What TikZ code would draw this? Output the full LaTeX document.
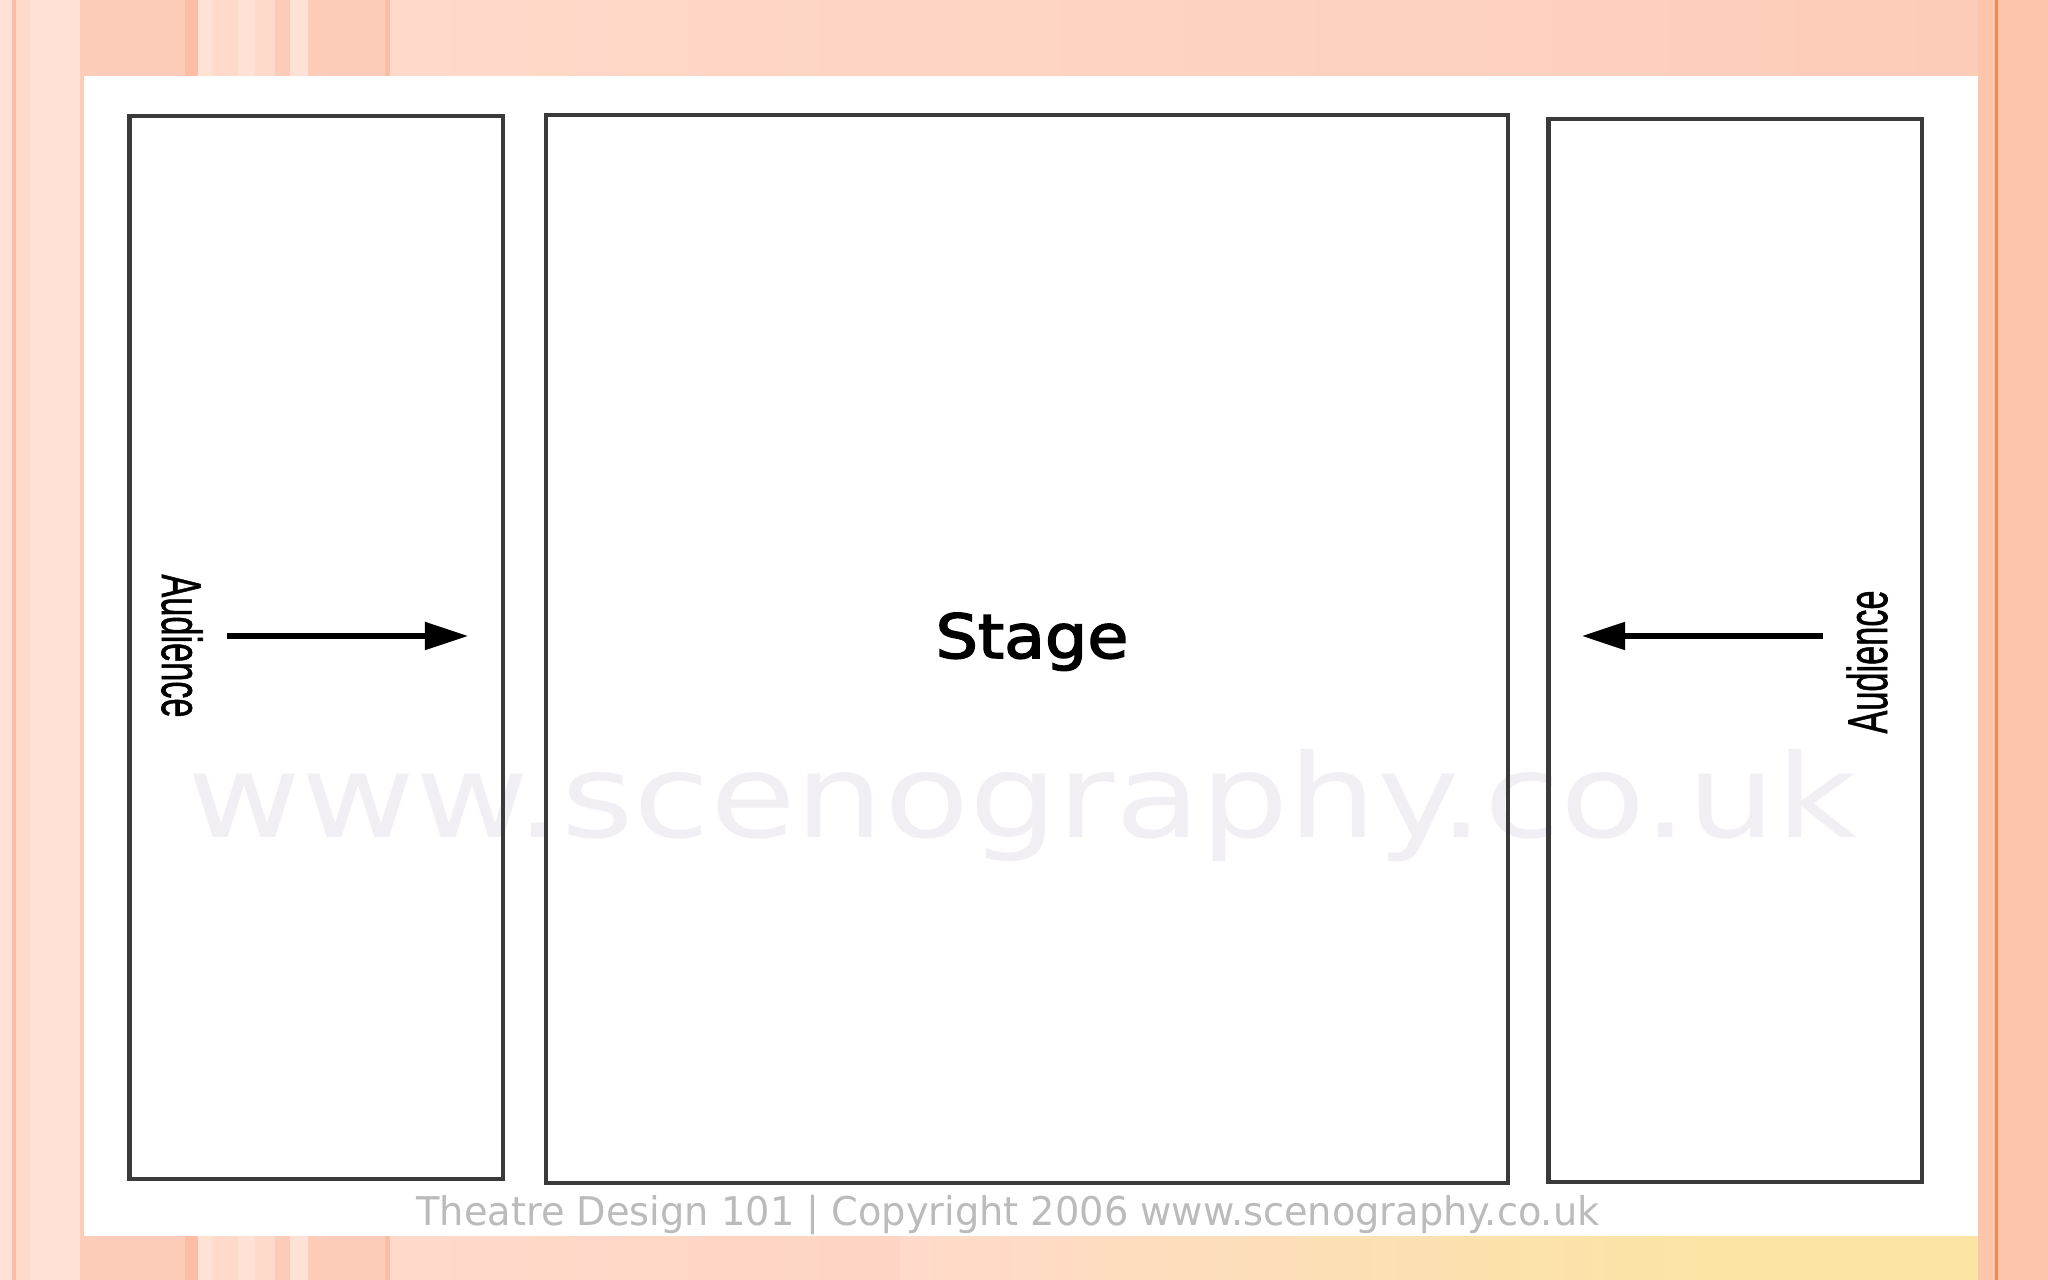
\documentclass[tikz,border=0pt]{standalone}
\usepackage{fontspec}
\usepackage{graphicx}
\usetikzlibrary{arrows.meta}
\newfontfamily\verdfont{DejaVu Sans}
\newfontfamily\verdheavy[FakeBold=2.5]{DejaVu Sans}
\newfontfamily\arialfont[FakeBold=1.2]{Liberation Sans}
\definecolor{peach}{HTML}{FDCCB8}
\definecolor{peachlt}{HTML}{FFD9CA}
\definecolor{peachpale}{HTML}{FFE1D5}
\definecolor{peachdk}{HTML}{FBBDA5}
\definecolor{peachrt}{HTML}{FDC6AC}
\definecolor{sand}{HTML}{FBE4A4}
\definecolor{rim}{HTML}{F08A50}
\definecolor{mark}{HTML}{F1EFF3}
\definecolor{foot}{HTML}{BBBBBB}
\definecolor{edge}{HTML}{3A3A3A}
\tikzset{
  area/.style={draw=edge, line width=1.2pt, inner sep=0pt, outer sep=0pt},
  seat/.style={area, minimum width=3.73cm, minimum height=10.63cm},
  ray/.style={line width=1.45pt, -{Triangle[length=0.43cm, width=0.27cm]}}
}
\begin{document}
\begin{tikzpicture}[x=0.01cm,y=-0.01cm]
\tikzstyle{every node}+=[inner sep=0pt]
\useasboundingbox (0,0) rectangle (2048,1280);
\fill[peach] (0,0) rectangle (2048,1280);
\shade[left color=peachlt, right color=peach] (390,0) rectangle (1978,1280);
\shade[left color=peachlt, right color=sand] (900,1236) rectangle (1700,1280);
\fill[sand] (1700,1236) rectangle (1978,1280);
\foreach \xa/\xb/\c in {0/12/peachpale, 12/16/peachdk, 16/30/peachlt, 30/80/peachpale,
  185/198/peachdk, 198/212/peachpale, 212/238/peachlt, 238/255/peachpale,
  255/275/peachlt, 290/308/peachpale, 385/390/peachdk, 1978/2048/peachrt}
  \fill[\c] (\xa,0) rectangle (\xb,1280);
\fill[rim] (1995,0) rectangle (1998,1280);
\fill[white] (84,76) rectangle (1978,1236);
\node[text=mark, anchor=base] (wm) at (1022,838)
  {\scalebox{1.2}[1]{\verdfont\fontsize{33}{33}\selectfont www.scenography.co.uk}};
\node[seat] (left) at (316,647.5) {};
\node[area, minimum width=9.62cm, minimum height=10.68cm] (stage) at (1027,649) {};
\node[seat] (right) at (1735,650.5) {};
\node[anchor=base] (stagelbl) at (1032,658)
  {\scalebox{1.15}[1.05]{\verdheavy\fontsize{16.5}{16.5}\selectfont Stage}};
\node[rotate=-90] (audl) at (182,646)
  {\scalebox{0.61}[1]{\arialfont\fontsize{16}{16}\selectfont Audience}};
\node[rotate=90] (audr) at (1867,662)
  {\scalebox{0.61}[1]{\arialfont\fontsize{16}{16}\selectfont Audience}};
\node[text=foot, anchor=base] (credit) at (1008,1226)
  {\scalebox{1.21}[1.25]{\verdfont\fontsize{9}{9}\selectfont Theatre Design 101 | Copyright 2006 www.scenography.co.uk}};
\coordinate (la) at (227,636);
\coordinate (lb) at (468,636);
\coordinate (ra) at (1823,636);
\coordinate (rb) at (1582,636);
\draw[ray] (la) -- (lb);
\draw[ray] (ra) -- (rb);
\end{tikzpicture}
\end{document}
